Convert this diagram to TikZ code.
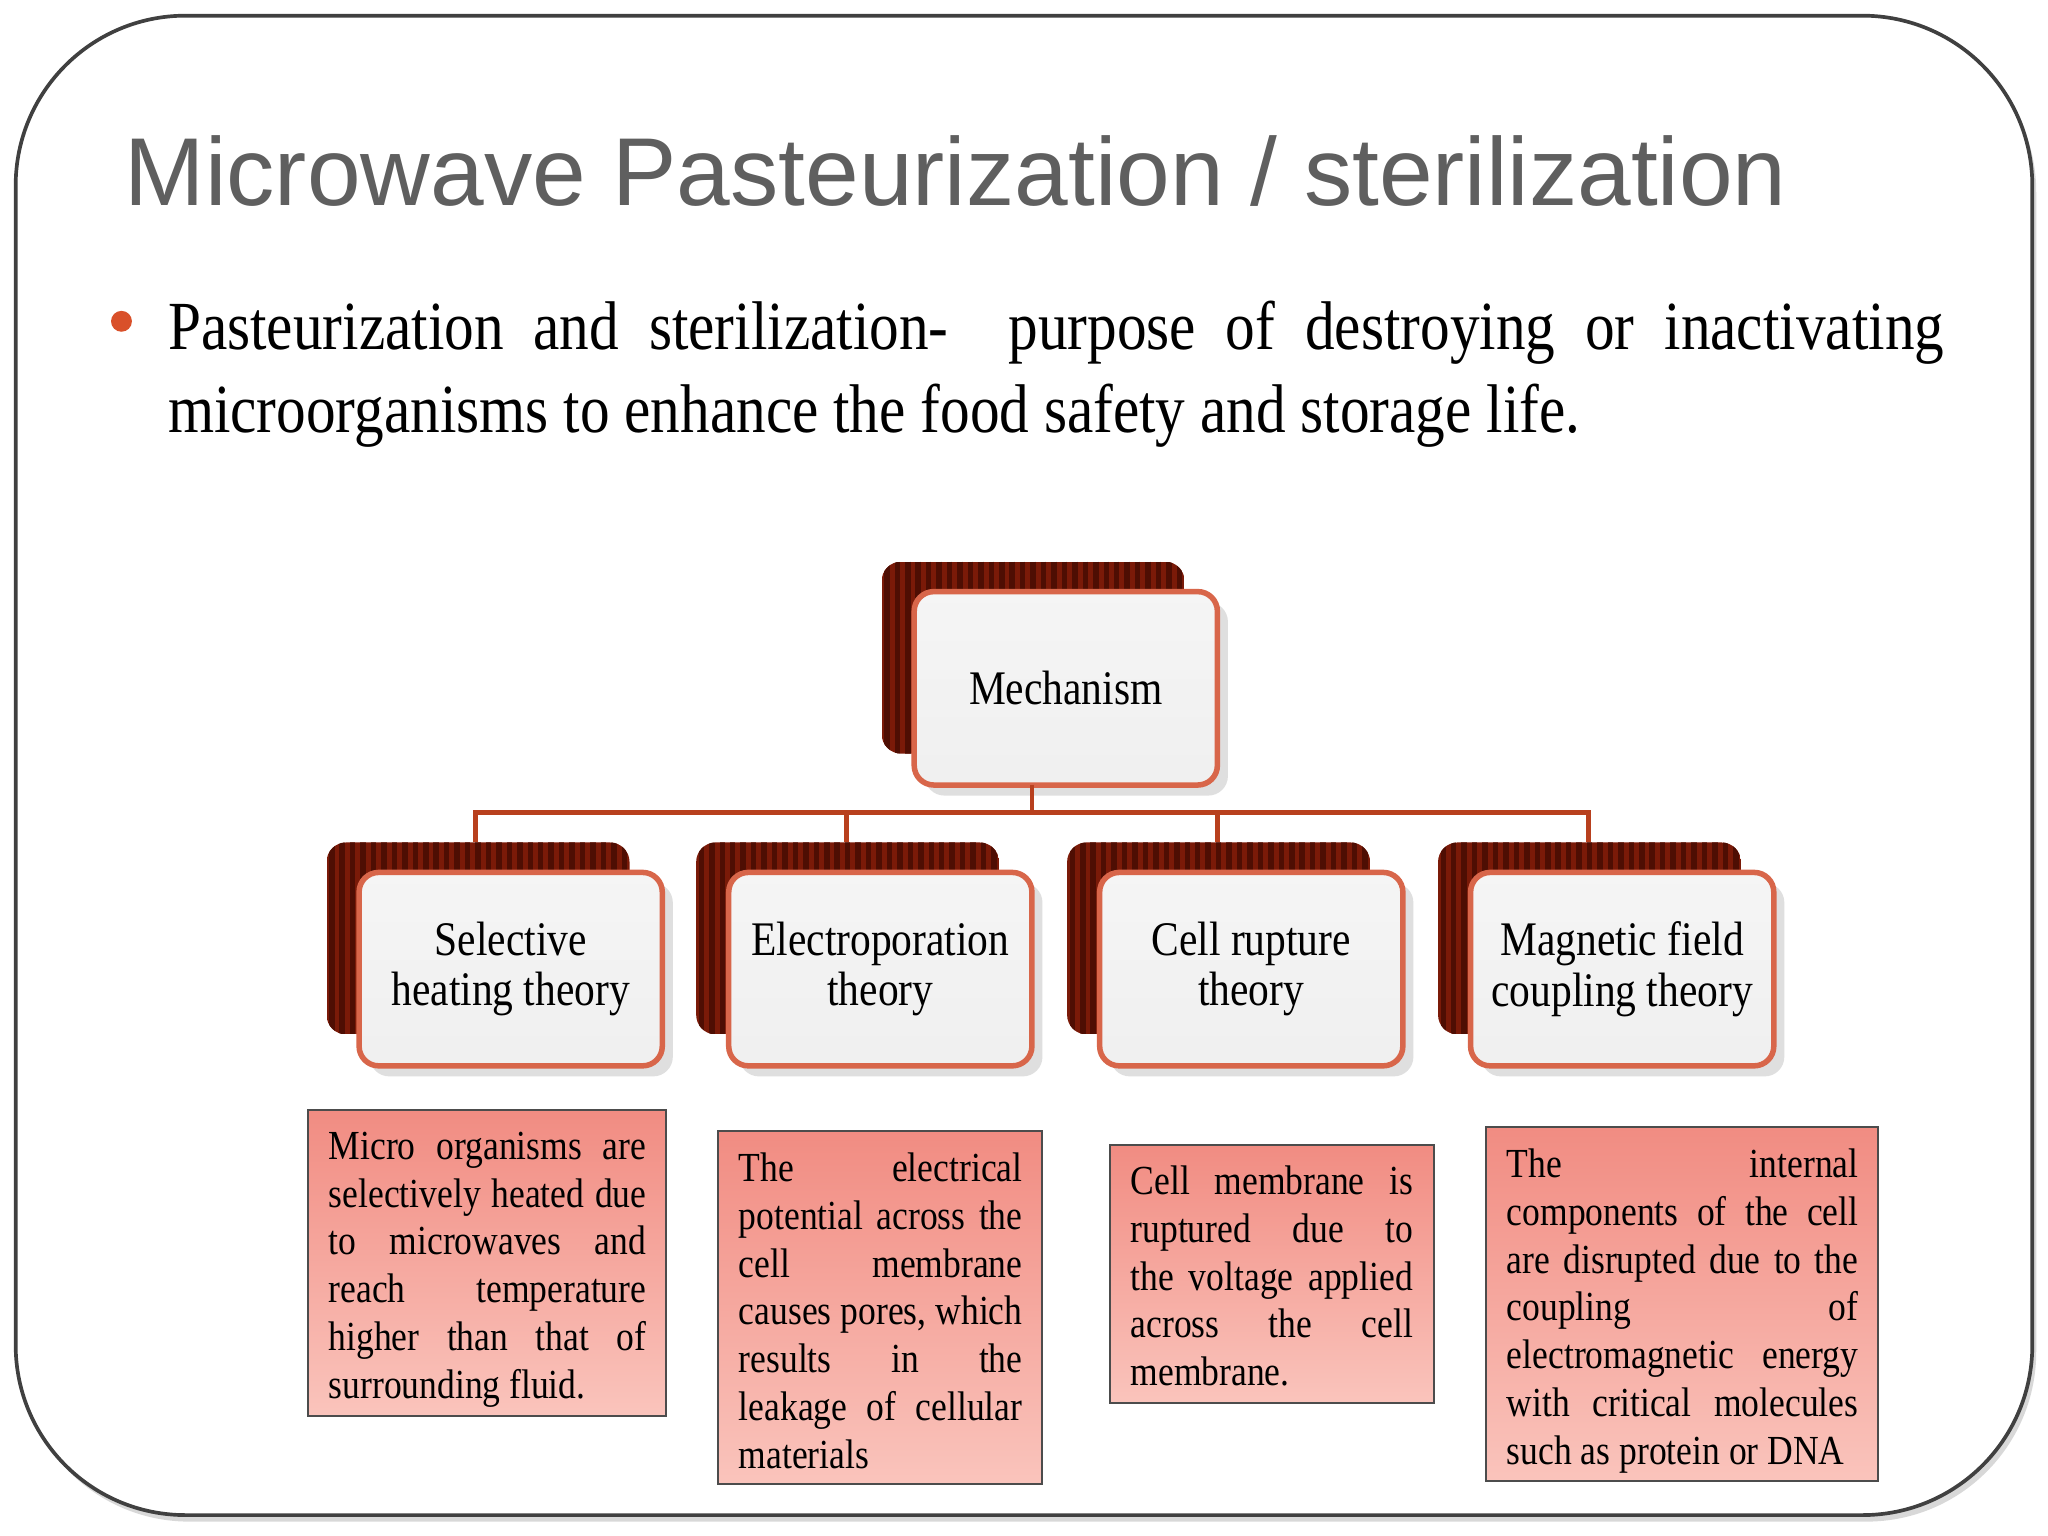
\documentclass[tikz,border=0pt]{standalone}
\usepackage{fontspec}
\setmainfont{Liberation Serif}
\newfontfamily\titlefont{Liberation Sans}
\newfontfamily\narrowserif[FakeStretch=0.86]{Liberation Serif}
\usetikzlibrary{shadows}
\definecolor{frameC}{HTML}{404040}
\definecolor{titleC}{HTML}{5F5F5F}
\definecolor{bulletC}{HTML}{D9502A}
\definecolor{backC}{HTML}{7A1A08}
\definecolor{stripeC}{HTML}{4E0E03}
\definecolor{edgeC}{HTML}{D8664A}
\definecolor{lineC}{HTML}{B8401E}
\definecolor{descTop}{HTML}{F18C82}
\definecolor{descBot}{HTML}{FAC4BC}
\tikzset{
  front/.style={draw=edgeC, line width=1.2pt, rounded corners=0.15cm, top color=white!92!gray, bottom color=white!88!gray, minimum width=2.32cm, minimum height=1.48cm, align=center, font=\fontsize{10.5}{11}\selectfont\narrowserif, drop shadow={opacity=0.25}},
  desc/.style={draw=black!70, line width=0.5pt, top color=descTop, bottom color=descBot, inner sep=0pt},
  conn/.style={draw=lineC, line width=1pt},
  dtext/.style={anchor=north west, inner sep=0pt, align=justify, font=\fontsize{9}{10.4}\selectfont\narrowserif}
}
\newcommand{\backbox}[2]{%
  \begin{scope}
    \clip[rounded corners=0.15cm] (#1,#2) rectangle ++(232,147);
    \fill[backC] (#1,#2) rectangle ++(232,147);
    \foreach \i in {4,12,...,232} \draw[stripeC, line width=1.2pt] (#1+\i,#2) -- ++(0,147);
  \end{scope}}
\begin{document}
\begin{tikzpicture}[x=0.01cm, y=-0.01cm]
\useasboundingbox (0,0) rectangle (1568,1176);
\fill[white] (0,0) rectangle (1568,1176);
\draw[frameC, line width=0.8pt, rounded corners=1.3cm, fill=white, drop shadow={opacity=0.3, shadow xshift=0.03cm, shadow yshift=-0.05cm}] (12,12) rectangle (1556,1160);
\node[anchor=base west, inner sep=0pt, text=titleC, font=\fontsize{21}{24}\selectfont\titlefont] (title) at (95,157) {Microwave Pasteurization / sterilization};
\fill[bulletC] (93,246) circle (8);
\node[anchor=north west, inner sep=0pt, text width=13.59cm, align=justify, font=\fontsize{15}{18}\selectfont\narrowserif] (bullet) at (128,230) {Pasteurization and sterilization-\ \ purpose of destroying or inactivating\linebreak microorganisms to enhance the food safety and storage life.};
% mechanism
\backbox{675}{430}
\node[front] (mech) at (816,527) {Mechanism};
% children
\backbox{250}{645}\backbox{533}{645}\backbox{817}{645}\backbox{1101}{645}
\node[front] (c1) at (391,742) {Selective\\heating theory};
\node[front] (c2) at (674,742) {Electroporation\\theory};
\node[front] (c3) at (958,742) {Cell rupture\\theory};
\node[front] (c4) at (1242,742) {Magnetic field\\coupling theory};
\coordinate (j) at (790,622);
\coordinate (t1) at (364,645);\coordinate (t2) at (648,645);\coordinate (t3) at (932,645);\coordinate (t4) at (1216,645);
\draw[conn] (790,601) -- (j);
\draw[conn] (t1) -- (t1|-j) -- (t4|-j) -- (t4);
\draw[conn] (t2) -- (t2|-j); \draw[conn] (t3) -- (t3|-j);
% descriptions
\node[desc, minimum width=2.74cm, minimum height=2.34cm, anchor=north west] (d1) at (235,849) {};
\node[desc, minimum width=2.48cm, minimum height=2.70cm, anchor=north west] (d2) at (549,865) {};
\node[desc, minimum width=2.48cm, minimum height=1.97cm, anchor=north west] (d3) at (849,876) {};
\node[desc, minimum width=3.00cm, minimum height=2.71cm, anchor=north west] (d4) at (1137,862) {};
\node[dtext, text width=2.43cm] (t1x) at (251,866) {Micro organisms are\linebreak selectively heated due\linebreak to microwaves and\linebreak reach temperature\linebreak higher than that of\linebreak surrounding fluid.};
\node[dtext, text width=2.17cm] (t2x) at (565,882) {The electrical\linebreak potential across the\linebreak cell membrane\linebreak causes pores, which\linebreak results in the\linebreak leakage of cellular\linebreak materials};
\node[dtext, text width=2.16cm] (t3x) at (865,892) {Cell membrane is\linebreak ruptured due to\linebreak the voltage applied\linebreak across the cell\linebreak membrane.};
\node[dtext, text width=2.69cm] (t4x) at (1153,879) {The internal\linebreak components of the cell\linebreak are disrupted due to the\linebreak coupling of\linebreak electromagnetic energy\linebreak with critical molecules\linebreak such as protein or DNA};
\end{tikzpicture}
\end{document}
